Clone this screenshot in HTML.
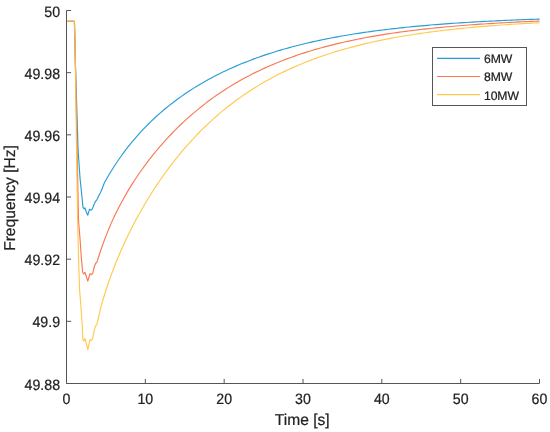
<!DOCTYPE html>
<html><head><meta charset="utf-8"><title>Frequency response</title>
<style>html,body{margin:0;padding:0;background:#fff;}body{width:550px;height:432px;overflow:hidden;}svg{display:block;}text{font-family:"Liberation Sans",sans-serif;fill:#222;stroke:#222;stroke-width:0.22px;text-rendering:geometricPrecision;}</style></head><body>
<svg width="550" height="432" viewBox="0 0 550 432">
<rect width="550" height="432" fill="#fff"/>
<path d="M67.20,21.20 L74.40,21.20 L74.90,40.00 L75.30,60.00 L78.10,150.00 L80.00,177.80 L81.90,196.30 L83.00,207.40 L84.10,208.90 L85.00,207.80 L86.30,212.00 L87.80,215.20 L88.90,211.10 L89.60,209.30 L91.10,210.20 L92.40,208.90 L93.70,205.20 L95.20,201.90 L97.00,199.60 L98.90,195.40 L100.70,192.20 L104.40,182.78 L106.40,179.22 L109.40,174.08 L112.40,169.18 L115.40,164.50 L118.40,160.03 L121.40,155.75 L124.40,151.65 L127.40,147.71 L130.40,143.93 L133.40,140.29 L136.40,136.79 L139.40,133.42 L142.40,130.17 L145.40,127.03 L148.40,124.00 L151.40,121.07 L154.40,118.24 L157.40,115.49 L160.40,112.84 L163.40,110.27 L166.40,107.77 L169.40,105.36 L172.40,103.01 L175.40,100.73 L178.40,98.52 L181.40,96.37 L184.40,94.29 L187.40,92.26 L190.40,90.29 L193.40,88.37 L196.40,86.51 L199.40,84.70 L202.40,82.93 L205.40,81.22 L208.40,79.54 L211.40,77.92 L214.40,76.33 L217.40,74.79 L220.40,73.29 L223.40,71.83 L226.40,70.40 L229.40,69.02 L232.40,67.66 L235.40,66.35 L238.40,65.06 L241.40,63.81 L244.40,62.60 L247.40,61.41 L250.40,60.25 L253.40,59.12 L256.40,58.02 L259.40,56.95 L262.40,55.91 L265.40,54.89 L268.40,53.90 L271.40,52.93 L274.40,51.99 L277.40,51.07 L280.40,50.17 L283.40,49.30 L286.40,48.44 L289.40,47.61 L292.40,46.80 L295.40,46.01 L298.40,45.24 L301.40,44.49 L304.40,43.76 L307.40,43.05 L310.40,42.35 L313.40,41.67 L316.40,41.01 L319.40,40.37 L322.40,39.74 L325.40,39.13 L328.40,38.53 L331.40,37.95 L334.40,37.38 L337.40,36.82 L340.40,36.28 L343.40,35.76 L346.40,35.24 L349.40,34.74 L352.40,34.25 L355.40,33.78 L358.40,33.31 L361.40,32.86 L364.40,32.42 L367.40,31.99 L370.40,31.57 L373.40,31.16 L376.40,30.76 L379.40,30.37 L382.40,29.99 L385.40,29.62 L388.40,29.26 L391.40,28.91 L394.40,28.56 L397.40,28.23 L400.40,27.90 L403.40,27.58 L406.40,27.27 L409.40,26.97 L412.40,26.67 L415.40,26.39 L418.40,26.11 L421.40,25.83 L424.40,25.57 L427.40,25.31 L430.40,25.05 L433.40,24.80 L436.40,24.56 L439.40,24.33 L442.40,24.10 L445.40,23.87 L448.40,23.66 L451.40,23.44 L454.40,23.24 L457.40,23.03 L460.40,22.84 L463.40,22.64 L466.40,22.46 L469.40,22.27 L472.40,22.10 L475.40,21.92 L478.40,21.75 L481.40,21.59 L484.40,21.43 L487.40,21.27 L490.40,21.12 L493.40,20.97 L496.40,20.82 L499.40,20.68 L502.40,20.54 L505.40,20.40 L508.40,20.27 L511.40,20.14 L514.40,20.02 L517.40,19.90 L520.40,19.78 L523.40,19.66 L526.40,19.55 L529.40,19.44 L532.40,19.33 L535.40,19.22 L538.40,19.12 L539.60,19.08" fill="none" stroke="#1192D0" stroke-opacity="0.9" stroke-width="1.15" stroke-linejoin="round"/>
<path d="M67.20,21.20 L74.40,21.20 L74.90,40.00 L75.30,60.00 L78.50,220.00 L80.00,238.50 L81.30,257.00 L82.60,271.90 L83.70,274.10 L85.00,272.40 L86.30,276.50 L87.80,281.10 L89.10,276.50 L90.00,273.70 L91.50,274.60 L92.60,273.60 L94.40,266.50 L95.60,263.50 L97.00,261.90 L99.00,255.80 L100.60,250.75 L102.60,244.95 L105.60,236.85 L108.60,229.35 L111.60,222.38 L114.60,215.86 L117.60,209.72 L120.60,203.92 L123.60,198.41 L126.60,193.16 L129.60,188.15 L132.60,183.34 L135.60,178.71 L138.60,174.26 L141.60,169.97 L144.60,165.82 L147.60,161.81 L150.60,157.92 L153.60,154.15 L156.60,150.50 L159.60,146.95 L162.60,143.51 L165.60,140.16 L168.60,136.90 L171.60,133.74 L174.60,130.66 L177.60,127.67 L180.60,124.76 L183.60,121.92 L186.60,119.17 L189.60,116.48 L192.60,113.87 L195.60,111.32 L198.60,108.84 L201.60,106.43 L204.60,104.08 L207.60,101.80 L210.60,99.57 L213.60,97.40 L216.60,95.29 L219.60,93.23 L222.60,91.23 L225.60,89.28 L228.60,87.38 L231.60,85.53 L234.60,83.73 L237.60,81.97 L240.60,80.27 L243.60,78.60 L246.60,76.98 L249.60,75.40 L252.60,73.86 L255.60,72.37 L258.60,70.91 L261.60,69.49 L264.60,68.11 L267.60,66.76 L270.60,65.45 L273.60,64.17 L276.60,62.93 L279.60,61.71 L282.60,60.53 L285.60,59.38 L288.60,58.27 L291.60,57.18 L294.60,56.11 L297.60,55.08 L300.60,54.07 L303.60,53.09 L306.60,52.14 L309.60,51.21 L312.60,50.30 L315.60,49.42 L318.60,48.56 L321.60,47.72 L324.60,46.91 L327.60,46.11 L330.60,45.34 L333.60,44.59 L336.60,43.85 L339.60,43.14 L342.60,42.44 L345.60,41.76 L348.60,41.10 L351.60,40.46 L354.60,39.84 L357.60,39.23 L360.60,38.63 L363.60,38.05 L366.60,37.49 L369.60,36.94 L372.60,36.41 L375.60,35.89 L378.60,35.38 L381.60,34.89 L384.60,34.41 L387.60,33.94 L390.60,33.48 L393.60,33.04 L396.60,32.61 L399.60,32.19 L402.60,31.78 L405.60,31.38 L408.60,30.99 L411.60,30.61 L414.60,30.24 L417.60,29.88 L420.60,29.53 L423.60,29.19 L426.60,28.86 L429.60,28.54 L432.60,28.22 L435.60,27.91 L438.60,27.62 L441.60,27.33 L444.60,27.04 L447.60,26.77 L450.60,26.50 L453.60,26.24 L456.60,25.98 L459.60,25.73 L462.60,25.49 L465.60,25.26 L468.60,25.03 L471.60,24.80 L474.60,24.59 L477.60,24.37 L480.60,24.17 L483.60,23.97 L486.60,23.77 L489.60,23.58 L492.60,23.40 L495.60,23.21 L498.60,23.04 L501.60,22.87 L504.60,22.70 L507.60,22.54 L510.60,22.38 L513.60,22.22 L516.60,22.07 L519.60,21.93 L522.60,21.79 L525.60,21.65 L528.60,21.51 L531.60,21.38 L534.60,21.25 L537.60,21.13 L539.60,21.05" fill="none" stroke="#FA6941" stroke-opacity="0.9" stroke-width="1.15" stroke-linejoin="round"/>
<path d="M67.20,21.20 L74.40,21.20 L74.90,40.00 L75.30,60.00 L77.60,220.00 L78.50,257.00 L79.60,290.00 L81.10,308.50 L82.30,327.00 L83.00,340.00 L83.70,340.90 L85.00,338.50 L86.30,343.70 L87.80,349.60 L89.10,343.70 L90.00,339.60 L91.50,340.40 L92.60,338.50 L94.30,329.80 L95.60,326.10 L97.00,323.90 L98.90,315.90 L100.70,307.67 L102.70,300.74 L105.70,291.03 L108.70,282.02 L111.70,273.62 L114.70,265.73 L117.70,258.28 L120.70,251.21 L123.70,244.48 L126.70,238.05 L129.70,231.88 L132.70,225.96 L135.70,220.25 L138.70,214.74 L141.70,209.42 L144.70,204.26 L147.70,199.27 L150.70,194.43 L153.70,189.73 L156.70,185.17 L159.70,180.74 L162.70,176.44 L165.70,172.25 L168.70,168.18 L171.70,164.22 L174.70,160.36 L177.70,156.61 L180.70,152.96 L183.70,149.41 L186.70,145.95 L189.70,142.58 L192.70,139.30 L195.70,136.11 L198.70,133.00 L201.70,129.97 L204.70,127.02 L207.70,124.15 L210.70,121.36 L213.70,118.63 L216.70,115.98 L219.70,113.40 L222.70,110.88 L225.70,108.43 L228.70,106.05 L231.70,103.73 L234.70,101.46 L237.70,99.26 L240.70,97.11 L243.70,95.03 L246.70,92.99 L249.70,91.01 L252.70,89.08 L255.70,87.20 L258.70,85.37 L261.70,83.58 L264.70,81.84 L267.70,80.15 L270.70,78.51 L273.70,76.90 L276.70,75.34 L279.70,73.82 L282.70,72.33 L285.70,70.89 L288.70,69.48 L291.70,68.11 L294.70,66.78 L297.70,65.48 L300.70,64.22 L303.70,62.98 L306.70,61.78 L309.70,60.62 L312.70,59.48 L315.70,58.37 L318.70,57.29 L321.70,56.24 L324.70,55.21 L327.70,54.22 L330.70,53.25 L333.70,52.30 L336.70,51.38 L339.70,50.48 L342.70,49.61 L345.70,48.76 L348.70,47.93 L351.70,47.12 L354.70,46.33 L357.70,45.57 L360.70,44.82 L363.70,44.10 L366.70,43.39 L369.70,42.70 L372.70,42.03 L375.70,41.37 L378.70,40.74 L381.70,40.12 L384.70,39.51 L387.70,38.93 L390.70,38.35 L393.70,37.80 L396.70,37.25 L399.70,36.72 L402.70,36.21 L405.70,35.71 L408.70,35.22 L411.70,34.74 L414.70,34.28 L417.70,33.83 L420.70,33.39 L423.70,32.96 L426.70,32.54 L429.70,32.14 L432.70,31.74 L435.70,31.35 L438.70,30.98 L441.70,30.61 L444.70,30.26 L447.70,29.91 L450.70,29.57 L453.70,29.24 L456.70,28.92 L459.70,28.61 L462.70,28.31 L465.70,28.01 L468.70,27.72 L471.70,27.44 L474.70,27.17 L477.70,26.90 L480.70,26.65 L483.70,26.39 L486.70,26.15 L489.70,25.91 L492.70,25.67 L495.70,25.45 L498.70,25.23 L501.70,25.01 L504.70,24.80 L507.70,24.60 L510.70,24.40 L513.70,24.20 L516.70,24.01 L519.70,23.83 L522.70,23.65 L525.70,23.48 L528.70,23.31 L531.70,23.14 L534.70,22.98 L537.70,22.82 L539.60,22.73" fill="none" stroke="#FFC33C" stroke-opacity="0.9" stroke-width="1.15" stroke-linejoin="round"/>
<path d="M66.5,10.5 V383.5 H539.5" fill="none" stroke="#555555" stroke-width="1"/>
<path d="M66.5,10.50 h4.6" stroke="#555555" stroke-width="1"/>
<text transform="translate(60.10,16.60) scale(1,1.06)" font-size="14.2" text-anchor="end">50</text>
<path d="M66.5,72.67 h4.6" stroke="#555555" stroke-width="1"/>
<text transform="translate(60.10,78.77) scale(1,1.06)" font-size="14.2" text-anchor="end">49.98</text>
<path d="M66.5,134.83 h4.6" stroke="#555555" stroke-width="1"/>
<text transform="translate(60.10,140.93) scale(1,1.06)" font-size="14.2" text-anchor="end">49.96</text>
<path d="M66.5,197.00 h4.6" stroke="#555555" stroke-width="1"/>
<text transform="translate(60.10,203.10) scale(1,1.06)" font-size="14.2" text-anchor="end">49.94</text>
<path d="M66.5,259.17 h4.6" stroke="#555555" stroke-width="1"/>
<text transform="translate(60.10,265.27) scale(1,1.06)" font-size="14.2" text-anchor="end">49.92</text>
<path d="M66.5,321.33 h4.6" stroke="#555555" stroke-width="1"/>
<text transform="translate(60.10,327.43) scale(1,1.06)" font-size="14.2" text-anchor="end">49.9</text>
<path d="M66.5,383.50 h4.6" stroke="#555555" stroke-width="1"/>
<text transform="translate(60.10,389.60) scale(1,1.06)" font-size="14.2" text-anchor="end">49.88</text>
<path d="M66.50,383.5 v-4.6" stroke="#555555" stroke-width="1"/>
<text transform="translate(66.50,404.30) scale(1,1.06)" font-size="14.2" text-anchor="middle">0</text>
<path d="M145.33,383.5 v-4.6" stroke="#555555" stroke-width="1"/>
<text transform="translate(145.33,404.30) scale(1,1.06)" font-size="14.2" text-anchor="middle">10</text>
<path d="M224.17,383.5 v-4.6" stroke="#555555" stroke-width="1"/>
<text transform="translate(224.17,404.30) scale(1,1.06)" font-size="14.2" text-anchor="middle">20</text>
<path d="M303.00,383.5 v-4.6" stroke="#555555" stroke-width="1"/>
<text transform="translate(303.00,404.30) scale(1,1.06)" font-size="14.2" text-anchor="middle">30</text>
<path d="M381.83,383.5 v-4.6" stroke="#555555" stroke-width="1"/>
<text transform="translate(381.83,404.30) scale(1,1.06)" font-size="14.2" text-anchor="middle">40</text>
<path d="M460.67,383.5 v-4.6" stroke="#555555" stroke-width="1"/>
<text transform="translate(460.67,404.30) scale(1,1.06)" font-size="14.2" text-anchor="middle">50</text>
<path d="M539.50,383.5 v-4.6" stroke="#555555" stroke-width="1"/>
<text transform="translate(539.50,404.30) scale(1,1.06)" font-size="14.2" text-anchor="middle">60</text>
<text transform="translate(302.20,425.20) scale(1,1.01)" font-size="15.6" text-anchor="middle">Time [s]</text>
<text transform="translate(14.50,198.00) rotate(-90) scale(1,1.01)" font-size="15.6" text-anchor="middle">Frequency [Hz]</text>
<rect x="432.5" y="47.5" width="94" height="58" fill="#fff" stroke="#555555" stroke-width="1"/>
<path d="M437,58.35 H480" stroke="#1192D0" stroke-opacity="0.9" stroke-width="1.15"/>
<text x="484" y="63.2" font-size="12.2" letter-spacing="-0.1">6MW</text>
<path d="M437,76.5 H480" stroke="#FA6941" stroke-opacity="0.9" stroke-width="1.15"/>
<text x="484" y="81.4" font-size="12.2" letter-spacing="-0.1">8MW</text>
<path d="M437,94.6 H480" stroke="#FFC33C" stroke-opacity="0.9" stroke-width="1.15"/>
<text x="484" y="99.5" font-size="12.2" letter-spacing="-0.1">10MW</text>
</svg></body></html>
